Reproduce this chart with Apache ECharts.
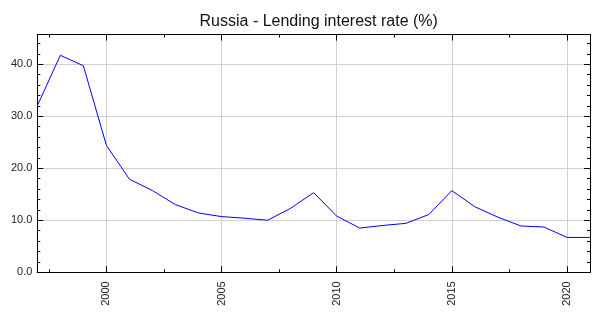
<!DOCTYPE html>
<html><head><meta charset="utf-8">
<script src="https://cdn.jsdelivr.net/npm/echarts@6/dist/echarts.min.js"></script>
<style>html,body{margin:0;padding:0;background:#fff}#c{width:600px;height:315px}</style>
</head><body><div id="c"></div>
<script>
const years = [1997,1998,1999,2000,2001,2002,2003,2004,2005,2006,2007,2008,2009,2010,2011,2012,2013,2014,2015,2016,2017,2018,2019,2020,2021];
const rates = [32.0,41.7,39.7,24.4,17.9,15.7,13.0,11.4,10.7,10.4,10.0,12.3,15.3,10.8,8.5,9.0,9.4,11.1,15.7,12.6,10.6,8.9,8.7,6.7,6.7];
const xMajor = [2000,2005,2010,2015,2020];
const xMinor = [1997.5,2002.5,2007.5,2012.5,2017.5];
const yMajor = [0,10,20,30,40];
const yMinor = [2,4,6,8,12,14,16,18,22,24,26,28,32,34,36,38,42,44];
const titleText = 'Russia - Lending interest rate (%)';

const FONT = 'Liberation Sans, Arial, sans-serif';
const chart = echarts.init(document.getElementById('c'), null, {renderer:'canvas'});
const XMIN = 1997, XMAX = 2021, YMIN = 0, YMAX = 45.7;
const lineCol = '#000';
const gridCol = '#d0d0d0';

function xAx(pos, vals, len, labels, split) {
  return {
    type:'value', position:pos, min:XMIN, max:XMAX,
    axisLine:{show:true, onZero:false, lineStyle:{color:lineCol, width:1}},
    axisTick:{show:true, inside:true, length:len, customValues:vals, lineStyle:{color:lineCol}},
    axisLabel:{show:labels, customValues:vals, rotate:90, margin:9, fontSize:11, color:'#222', fontFamily:FONT, formatter:v=>String(v)},
    splitLine:{show:split, lineStyle:{color:gridCol, width:1}},
    minorTick:{show:false}
  };
}
function yAx(pos, vals, len, labels, split) {
  return {
    type:'value', position:pos, min:YMIN, max:YMAX,
    axisLine:{show:true, onZero:false, lineStyle:{color:lineCol, width:1}},
    axisTick:{show:true, inside:true, length:len, customValues:vals, lineStyle:{color:lineCol}},
    axisLabel:{show:labels, customValues:vals, margin:5, fontSize:11, color:'#222', fontFamily:FONT, formatter:v=>v.toFixed(1)},
    splitLine:{show:split, lineStyle:{color:gridCol, width:1}},
    minorTick:{show:false}
  };
}

chart.setOption({
  animation:false,
  backgroundColor:'#fff',
  title:{text:titleText, left:313.7, top:9, textAlign:'center',
    textStyle:{fontFamily:FONT, fontSize:16, fontWeight:'normal', color:'#111'}},
  grid:{left:37.3, right:10, top:34.5, bottom:42.7, containLabel:false},
  xAxis:[
    xAx('bottom', xMajor, 6, true, true),
    xAx('bottom', xMinor, 3, false, false),
    xAx('top', xMajor, 6, false, false),
    xAx('top', xMinor, 3, false, false)
  ],
  yAxis:[
    yAx('left', yMajor, 6, true, true),
    yAx('left', yMinor, 3, false, false),
    yAx('right', yMajor, 6, false, false),
    yAx('right', yMinor, 3, false, false)
  ],
  series:[{
    type:'line', xAxisIndex:0, yAxisIndex:0,
    data: years.map((y,i)=>[y, rates[i]]),
    showSymbol:false, symbol:'none',
    lineStyle:{color:'#0000ff', width:1},
    z:5
  }]
});
</script></body></html>
